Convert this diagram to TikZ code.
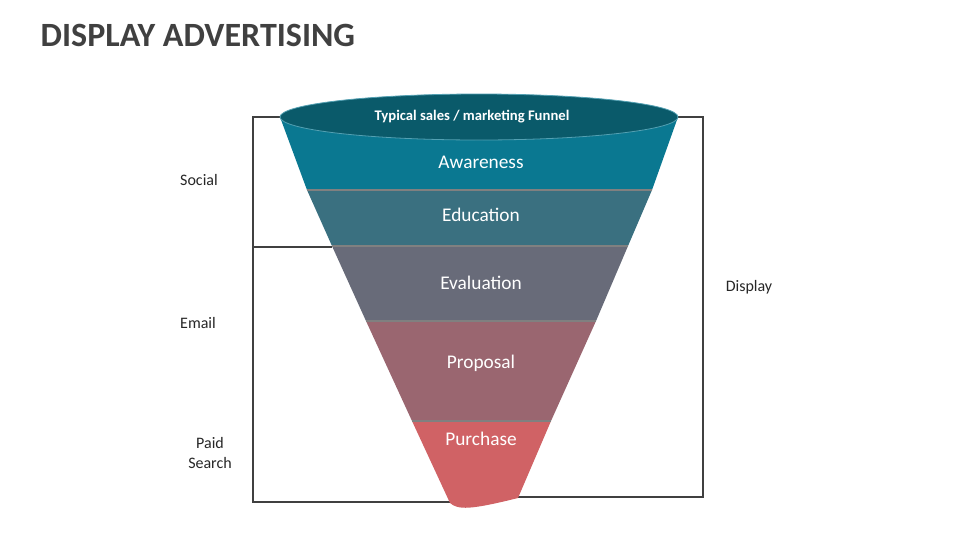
\documentclass[tikz,border=0pt]{standalone}
\usepackage{fontspec}
\setmainfont{Carlito}
\definecolor{cA}{HTML}{0A7891}
\definecolor{cB}{HTML}{3A7080}
\definecolor{cC}{HTML}{686B79}
\definecolor{cD}{HTML}{9A6670}
\definecolor{cE}{HTML}{D06265}
\definecolor{cTop}{HTML}{0A5A6A}
\definecolor{lineC}{HTML}{404040}
\definecolor{titleC}{HTML}{404040}
\begin{document}
\begin{tikzpicture}[x=0.75pt,y=-0.75pt,
  bandtxt/.style={text=white,font=\fontsize{14.5}{17}\selectfont},
  side/.style={text=black!85,font=\fontsize{12}{14.5}\selectfont,align=center},
  brk/.style={draw=lineC,line width=1.1pt}]
\useasboundingbox (0,0) rectangle (960,540);
\node[anchor=west,text=titleC,font=\fontsize{25.5}{30}\selectfont\bfseries] (title) at (36,35) {DISPLAY ADVERTISING};
% brackets
\coordinate (l1) at (280,117); \coordinate (l2) at (332,247); \coordinate (l3) at (450,502);
\coordinate (r1) at (678,117); \coordinate (r3) at (518,497);
\draw[brk] (l1) -- (253,117) -- (253,502) -- (l3);
\draw[brk] (l2) -- (253,247);
\draw[brk] (r1) -- (703,117) -- (703,497) -- (r3);
% bands
\fill[cA] (280,117) -- (307,190) -- (652,190) -- (678,117) -- cycle;
\fill[cB] (307,190) -- (332,246) -- (628,246) -- (652,190) -- cycle;
\fill[cC] (332,246) -- (366,321) -- (596,321) -- (628,246) -- cycle;
\fill[cD] (366,321) -- (412,421) -- (551,421) -- (596,321) -- cycle;
\fill[cE] (412,421) -- (450,503) .. controls (458,510) and (470,510) .. (518,498) -- (551,421) -- cycle;
\foreach \a/\b/\c in {307/652/190,332/628/246,366/596/321,412/551/421}
  \draw[black!50,line width=1.2pt] (\a,\c) -- (\b,\c);
\fill[cTop] (479,117) ellipse [x radius=199,y radius=23];
\draw[cA!70!white,line width=0.6pt] (479,117) ellipse [x radius=199,y radius=23];
% texts
\node[text=white,font=\fontsize{11}{13}\selectfont\bfseries] (t0) at (472,117) {Typical sales / marketing Funnel};
\node[bandtxt] (t1) at (481,162) {Awareness};
\node[bandtxt] (t2) at (481,215) {Education};
\node[bandtxt] (t3) at (481,283) {Evaluation};
\node[bandtxt] (t4) at (481,363) {Proposal};
\node[bandtxt] (t5) at (481,439) {Purchase};
\node[side] (s1) at (199,180) {Social};
\node[side] (s2) at (198,323) {Email};
\node[side] (s3) at (210,453) {Paid\\Search};
\node[side] (s4) at (749,287) {Display};
\end{tikzpicture}
\end{document}
